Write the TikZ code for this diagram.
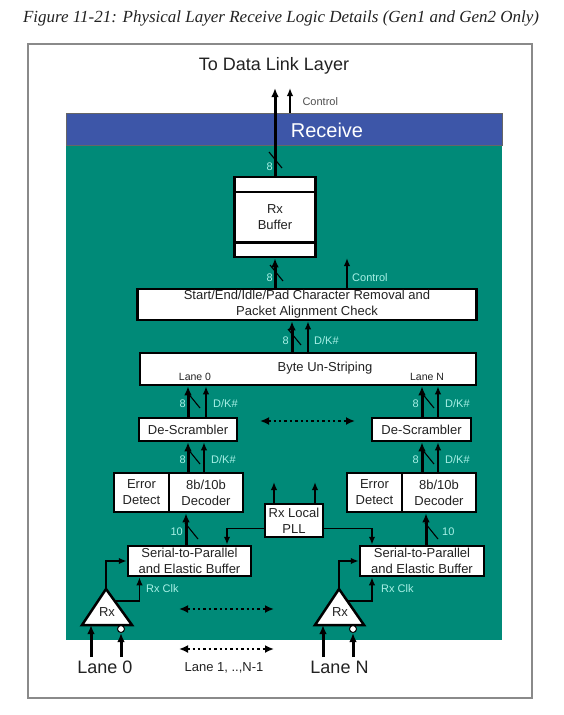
\documentclass[tikz,border=0pt]{standalone}
\usepackage{fontspec}
\setmainfont{Liberation Sans}
\newfontfamily\captionfont{Liberation Serif}
\usepackage{tikz}
\usetikzlibrary{arrows.meta}
\definecolor{boardgreen}{HTML}{008A78}
\definecolor{recvblue}{HTML}{3D56A8}
\definecolor{labelcyan}{HTML}{A8F0E6}
\definecolor{framegray}{HTML}{8A8A8A}
\definecolor{darktext}{HTML}{222222}
\tikzset{
  logicbox/.style={
    draw=black, fill=white, text=darktext,
    line width=2.5pt, inner sep=0pt, align=center,
    font=\fontsize{13}{16}\selectfont
  },
  rxtri/.style={draw=black, fill=white, line width=2.5pt},
  bubble/.style={circle, draw=black, fill=white, line width=1pt, minimum size=7pt, inner sep=0pt},
  busarrow/.style={-{Latex[length=9pt,width=7.5pt]}, line width=3pt},
  ctrlarrow/.style={-{Latex[length=8pt,width=6.5pt]}, line width=1.7pt},
  lanearrow/.style={{Latex[length=9pt,width=8pt]}-{Latex[length=9pt,width=8pt]}, line width=2.4pt, dash pattern=on 2.4pt off 3pt},
  buslabel/.style={text=labelcyan, font=\fontsize{11}{12}\selectfont, inner sep=0pt},
  pics/busmark/.style={code={\draw[line width=1.1pt] (-6,-8) -- (7,8);}}
}

\begin{document}
\begin{tikzpicture}[x=1pt, y=-1pt]
  \useasboundingbox (0,0) rectangle (564,715);
  % caption and frame
  \node[font=\captionfont\itshape\fontsize{17}{19}\selectfont, text=darktext] (caption) at (281,18)
    {Figure 11-21: Physical Layer Receive Logic Details (Gen1 and Gen2 Only)};
  \draw[framegray, line width=1.2pt] (28,44) rectangle (532,698);
  \node[font=\fontsize{18}{20}\selectfont, text=darktext] (dll) at (274,66) {To Data Link Layer};

  % receive area
  \fill[boardgreen] (66,145) rectangle (502,640);
  \node[fill=recvblue, draw=black!60, line width=0.6pt, minimum width=436pt, minimum height=32pt, inner sep=0pt] (rcvbar) at (284,129) {};
  \node[text=white, font=\fontsize{20}{22}\selectfont] (rcvtext) at (327,130) {Receive};

  % blocks
  \node[logicbox, minimum width=81pt, minimum height=80pt] (rxbuf) at (275,217) {Rx\\Buffer};
  \draw[line width=2.5pt] ([yshift=-16pt]rxbuf.north west) -- ([yshift=-16pt]rxbuf.north east);
  \draw[line width=2.5pt] ([yshift=16pt]rxbuf.south west) -- ([yshift=16pt]rxbuf.south east);
  \node[logicbox, minimum width=339pt, minimum height=31pt] (charrm) at (307,304.5)
    {Start/End/Idle/Pad Character Removal and\\Packet Alignment Check};
  \node[logicbox, minimum width=336pt, minimum height=32pt] (unstripe) at (308,369) {};
  \node[font=\fontsize{13}{15}\selectfont, text=darktext] (unstripetext) at (325,368) {Byte Un-Striping};
  \node[font=\fontsize{10.5}{12}\selectfont, text=darktext, inner sep=0pt] (lanezero) at (195,377) {Lane 0};
  \node[font=\fontsize{10.5}{12}\selectfont, text=darktext, inner sep=0pt] (lanen) at (427,377) {Lane N};

  \node[logicbox, minimum width=98pt, minimum height=23pt] (descr0) at (188,429.5) {De-Scrambler};
  \node[logicbox, minimum width=99pt, minimum height=23pt] (descrn) at (421.5,429.5) {De-Scrambler};
  \node[logicbox, minimum width=55pt, minimum height=39pt] (err0) at (141.5,492.5) {Error\\Detect};
  \node[logicbox, minimum width=74pt, minimum height=39pt] (dec0) at (206,492.5) {8b/10b\\Decoder};
  \node[logicbox, minimum width=55pt, minimum height=39pt] (errn) at (374.5,492.5) {Error\\Detect};
  \node[logicbox, minimum width=74pt, minimum height=39pt] (decn) at (439,492.5) {8b/10b\\Decoder};
  \node[logicbox, minimum width=58pt, minimum height=33pt] (pll) at (294,520.5) {Rx Local\\PLL};
  \node[logicbox, minimum width=123pt, minimum height=30pt] (ser0) at (189.5,561) {Serial-to-Parallel\\and Elastic Buffer};
  \node[logicbox, minimum width=124pt, minimum height=30pt] (sern) at (422,561) {Serial-to-Parallel\\and Elastic Buffer};

  % receivers
  \coordinate (rx0l) at (82,625);
  \coordinate (rx0apex) at (106,589);
  \coordinate (rx0r) at (132,625);
  \coordinate (rxnl) at (315,625);
  \coordinate (rxnapex) at (339,589);
  \coordinate (rxnr) at (364,625);
  \draw[rxtri] (rx0l) -- (rx0apex) -- (rx0r) -- cycle;
  \draw[rxtri] (rxnl) -- (rxnapex) -- (rxnr) -- cycle;
  \node[font=\fontsize{13}{15}\selectfont, text=darktext] (rx0) at (107,612) {Rx};
  \node[font=\fontsize{13}{15}\selectfont, text=darktext] (rxn) at (340,612) {Rx};
  \node[bubble] (bub0) at (121,629) {};
  \node[bubble] (bubn) at (353,629) {};

  % up to the data link layer
  \coordinate (dllbus) at (275,88);
  \coordinate (dllctrl) at (290,88);
  \draw[busarrow] (rxbuf.north) -- (dllbus);
  \draw[ctrlarrow] (rcvbar.north -| dllctrl) -- (dllctrl);
  \node[font=\fontsize{11}{12}\selectfont, text=darktext!80, anchor=west] (ctrltop) at (299,102) {Control};
  \pic at (275,160) {busmark};
  \node[buslabel, anchor=east] at (273,167) {8};

  % buffer input
  \draw[busarrow] (charrm.north -| rxbuf.south) -- (rxbuf.south);
  \pic at (276,273) {busmark};
  \node[buslabel, anchor=east] at (273,278) {8};
  \coordinate (rmctrl) at (347,258);
  \draw[ctrlarrow] (charrm.north -| rmctrl) -- (rmctrl);
  \node[buslabel, anchor=west] at (352,278) {Control};

  % un-striping to removal
  \draw[busarrow] (unstripe.north -| 292,0) -- (charrm.south -| 292,0);
  \draw[ctrlarrow] (unstripe.north -| 308,0) -- (charrm.south -| 308,0);
  \pic at (294,337) {busmark};
  \node[buslabel, anchor=east] at (289,341) {8};
  \node[buslabel, anchor=west] at (314,341) {D/K\#};

  % lane 0
  \draw[busarrow] (descr0.north) -- (descr0.north |- unstripe.south);
  \draw[ctrlarrow] (descr0.north -| 206,0) -- (unstripe.south -| 206,0);
  \pic at (193,400) {busmark};
  \node[buslabel, anchor=east] at (186,404) {8};
  \node[buslabel, anchor=west] at (213,404) {D/K\#};
  \draw[busarrow] (dec0.north -| descr0.south) -- (descr0.south);
  \draw[ctrlarrow] (dec0.north -| 204,0) -- (descr0.south -| 204,0);
  \pic at (193,456) {busmark};
  \node[buslabel, anchor=east] at (186,460) {8};
  \node[buslabel, anchor=west] at (211,460) {D/K\#};
  \draw[busarrow] (ser0.north -| 186,0) -- (dec0.south -| 186,0);
  \pic at (191,531) {busmark};
  \node[buslabel, anchor=east] at (183,532) {10};

  % lane N
  \draw[busarrow] (descrn.north -| 422,0) -- (unstripe.south -| 422,0);
  \draw[ctrlarrow] (descrn.north -| 438,0) -- (unstripe.south -| 438,0);
  \pic at (427,400) {busmark};
  \node[buslabel, anchor=east] at (419,404) {8};
  \node[buslabel, anchor=west] at (445,404) {D/K\#};
  \draw[busarrow] (decn.north -| 422,0) -- (descrn.south -| 422,0);
  \draw[ctrlarrow] (decn.north -| 438,0) -- (descrn.south -| 438,0);
  \pic at (427,456) {busmark};
  \node[buslabel, anchor=east] at (419,460) {8};
  \node[buslabel, anchor=west] at (445,460) {D/K\#};
  \draw[busarrow] (sern.north -| 426,0) -- (decn.south -| 426,0);
  \pic at (431,531) {busmark};
  \node[buslabel, anchor=west] at (442,532) {10};

  % clock
  \coordinate (pllout1) at (274,482);
  \coordinate (pllout2) at (315,482);
  \draw[ctrlarrow] (pll.north -| pllout1) -- (pllout1);
  \draw[ctrlarrow] (pll.north -| pllout2) -- (pllout2);
  \draw[ctrlarrow] ([yshift=-8pt]pll.west) -| ([xshift=37.5pt]ser0.north);
  \draw[ctrlarrow] ([yshift=-8pt]pll.east) -| ([xshift=-50pt]sern.north);

  % receivers to serial buffers
  \coordinate (rx0clk) at (114,601);
  \coordinate (rxnclk) at (347,601);
  \draw[ctrlarrow] (rx0apex) |- (ser0.west);
  \draw[ctrlarrow] (rxnapex) |- (sern.west);
  \draw[ctrlarrow] (rx0clk) -| ([xshift=-50pt]ser0.south);
  \draw[ctrlarrow] (rxnclk) -| ([xshift=-50pt]sern.south);
  \node[buslabel, anchor=west] at (146,589) {Rx Clk};
  \node[buslabel, anchor=west] at (381,589) {Rx Clk};

  % lane inputs
  \coordinate (lane0p) at (91,657);
  \coordinate (lane0n) at (121,657);
  \coordinate (lanenp) at (323,657);
  \coordinate (lanenn) at (353,657);
  \draw[busarrow] (lane0p) -- (lane0p |- rx0l);
  \draw[busarrow] (lane0n) -- (bub0.south);
  \draw[busarrow] (lanenp) -- (lanenp |- rxnl);
  \draw[busarrow] (lanenn) -- (bubn.south);
  \node[font=\fontsize{18}{20}\selectfont, text=darktext] (lane0txt) at (105,667) {Lane 0};
  \node[font=\fontsize{18}{20}\selectfont, text=darktext] (lanentxt) at (339.5,667) {Lane N};
  \node[font=\fontsize{13}{15}\selectfont, text=darktext] (midtxt) at (224,668) {Lane 1, ..,N-1};

  % more lanes
  \coordinate (dotsa1) at (260,421);
  \coordinate (dotsa2) at (355,421);
  \coordinate (dotsb1) at (179,609);
  \coordinate (dotsb2) at (274,609);
  \coordinate (dotsc1) at (179,649);
  \coordinate (dotsc2) at (274,649);
  \draw[lanearrow] (dotsa1) -- (dotsa2);
  \draw[lanearrow] (dotsb1) -- (dotsb2);
  \draw[lanearrow] (dotsc1) -- (dotsc2);
\end{tikzpicture}
\end{document}
